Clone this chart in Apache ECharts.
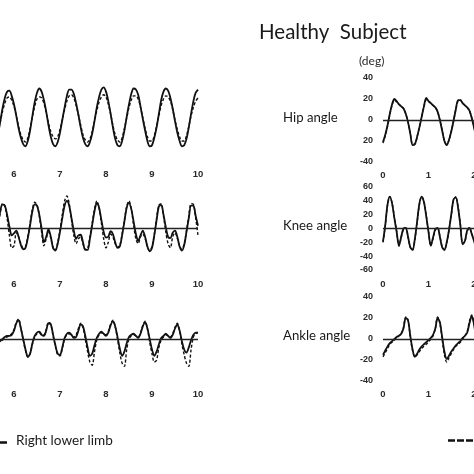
<!DOCTYPE html>
<html><head><meta charset="utf-8">
<script src="https://cdn.jsdelivr.net/npm/echarts/dist/echarts.min.js"></script>
<style>html,body{margin:0;padding:0;background:#fff}#c{width:474px;height:474px}</style>
</head><body><div id="c"></div>
<script>
// time sampling
const LEFT_T0 = 5.65, RIGHT_T0 = 0, DT = 0.05;
const xTicksLeft = ['5','6','7','8','9','10'];
const xTicksRight = ['0','1','2','3'];
const hipTicks = {'40':'40','20':'20','0':'0','-20':'20','-40':'-40'};
const kneeTicks = {'60':'60','40':'40','20':'20','0':'0','-20':'-20','-40':'-40','-60':'-60'};
const ankleTicks = {'40':'40','20':'20','0':'0','-20':'-20','-40':'-40'};

// Left (patient) panels, t = 5.65 .. 10.00 step 0.05
const leftHipSolid = [
 -14,-2,11,21,27,28,23,15,4,-8,
 -17,-23,-25,-20,-10,4,17,26,30,27,
 19,8,-5,-16,-23,-25,-21,-12,0,12,
 23,29,29,25,16,5,-7,-17,-23,-25,
 -21,-13,-1,12,22,29,31,27,18,6,
 -7,-18,-24,-25,-20,-10,3,15,25,30,
 29,24,13,1,-10,-20,-25,-24,-17,-7,
 6,19,27,30,28,21,11,-1,-12,-20,
 -25,-24,-18,-7,6,18,26,29];
const leftHipDashed = [
 -12,-2,8,16,21,22,19,13,4,-6,
 -14,-19,-21,-17,-8,3,13,20,22,21,
 16,7,-3,-11,-16,-18,-16,-9,0,10,
 18,23,24,21,14,5,-5,-14,-19,-21,
 -18,-11,-1,9,17,22,24,22,15,6,
 -5,-14,-19,-21,-17,-8,2,12,19,23,
 23,20,12,2,-8,-16,-20,-20,-15,-6,
 4,14,20,23,22,18,10,0,-9,-16,
 -20,-20,-15,-6,4,12,18,21];
const leftKneeSolid = [
 5,25,35,33,20,3,-10,-7,-3,-12,
 -24,-30,-28,-14,5,25,35,33,20,0,
 -20,-12,-1,-12,-28,-32,-22,-5,15,33,
 40,33,15,-3,-15,-10,-9,-20,-31,-31,
 -15,5,25,37,30,12,-5,-13,-12,-4,
 -8,-20,-28,-26,-10,10,30,37,28,10,
 -8,-18,-10,-3,-12,-26,-33,-28,-10,12,
 32,34,20,2,-12,-14,-6,-3,-12,-26,
 -32,-24,-5,15,33,33,18,4];
const leftKneeDashed = [
 3,22,36,33,15,-10,-28,-25,-6,-12,
 -22,-28,-26,-12,8,28,38,34,18,-5,
 -25,-15,-5,-14,-28,-31,-20,-2,20,40,
 47,36,12,-10,-22,-15,-12,-22,-30,-29,
 -12,8,28,40,30,8,-15,-28,-20,-8,
 -12,-22,-27,-24,-8,12,32,40,28,5,
 -15,-22,-12,-8,-14,-27,-32,-26,-8,15,
 34,36,18,-5,-22,-28,-12,-6,-14,-25,
 -30,-22,-3,18,36,35,15,-10];
const leftAnkleSolid = [
 -3,-2,0,2,3,3,4,8,15,18,
 10,0,-10,-17,-14,-4,3,6,7,4,
 3,8,15,14,4,-6,-14,-15,-8,1,
 5,6,4,1,2,8,14,12,3,-8,
 -16,-14,-6,1,5,7,5,3,6,13,
 17,12,2,-9,-16,-12,-4,2,4,5,
 3,1,5,12,16,10,0,-10,-16,-12,
 -5,1,3,5,3,1,4,10,14,8,
 -2,-10,-13,-8,-1,4,6,6];
const leftAnkleDashed = [
 -4,-2,-1,1,2,3,5,9,16,19,
 10,-1,-11,-17,-14,-5,2,5,6,4,
 4,9,16,14,3,-7,-15,-16,-9,0,
 4,5,3,2,4,10,15,11,0,-12,
 -22,-25,-12,-1,4,6,5,4,7,14,
 18,12,0,-13,-23,-26,-10,0,3,4,
 3,2,6,13,17,10,-3,-14,-22,-20,
 -8,-1,2,4,3,2,5,11,15,8,
 -5,-15,-23,-26,-10,2,5,6];

// Right (healthy subject) panels, t = 0 .. 2.10 step 0.05
const rightHipSolid = [
 -21,-14,-5,6,15,20,18,15,13,11,
 6,-2,-13,-24,-23,-16,-7,3,13,21,
 18,16,14,12,8,0,-10,-20,-24,-19,
 -11,-1,10,19,19,16,14,12,9,2,
 -7,-17,-24];
const rightHipDashed = [
 -22,-15,-6,5,14,19,17,15,13,11,
 6,-2,-13,-23,-23,-16,-7,3,13,19,
 18,16,14,12,8,0,-10,-20,-23,-19,
 -11,-1,10,18,19,16,14,12,9,2,
 -7,-17,-24];
const rightKneeSolid = [
 -19,5,35,46,36,15,-5,-25,-12,0,
 1,-12,-27,-31,-15,10,36,46,38,18,
 -5,-25,-13,-1,1,-12,-27,-31,-20,-2,
 20,42,45,30,5,-23,-18,-3,1,-8,
 -18,-28,-31];
const rightKneeDashed = [
 -20,4,34,46,37,16,-4,-25,-13,-1,
 1,-12,-27,-31,-16,9,35,46,39,19,
 -4,-25,-14,-2,1,-11,-26,-31,-21,-3,
 19,41,46,31,6,-22,-19,-4,1,-7,
 -17,-28,-31];
const rightAnkleSolid = [
 -15,-11,-7,-4,-2,0,2,3,5,10,
 20,18,3,-10,-17,-14,-10,-7,-5,-3,
 -1,1,4,10,20,16,2,-12,-19,-16,
 -12,-9,-6,-4,-2,1,3,6,15,22,
 14,0,-12];
const rightAnkleDashed = [
 -17,-13,-9,-5,-3,-1,1,3,5,11,
 21,18,2,-11,-17,-15,-12,-9,-7,-5,
 -3,0,3,10,21,15,0,-15,-22,-18,
 -14,-10,-7,-5,-3,0,3,7,17,23,
 14,-1,-13];

function pts(t0, vals){ return vals.map((v,i)=>[+(t0+i*DT).toFixed(2), v]); }

const FONT = 'Liberation Sans';
const panels = [
 {grid:{left:-32, top:78, width:230, height:84}, xmin:5, xmax:10, ymin:-40, ymax:40, ticks:hipTicks, showY:false, zero:false, margin:7, t0:LEFT_T0, s:leftHipSolid, d:leftHipDashed},
 {grid:{left:-32, top:187, width:230, height:83}, xmin:5, xmax:10, ymin:-60, ymax:60, ticks:kneeTicks, showY:false, zero:true, margin:9, t0:LEFT_T0, s:leftKneeSolid, d:leftKneeDashed},
 {grid:{left:-32, top:297, width:230, height:84}, xmin:5, xmax:10, ymin:-40, ymax:40, ticks:ankleTicks, showY:false, zero:true, margin:8, t0:LEFT_T0, s:leftAnkleSolid, d:leftAnkleDashed},
 {grid:{left:383, top:78, width:136.5, height:84}, xmin:0, xmax:3, ymin:-40, ymax:40, ticks:hipTicks, showY:true, zero:true, margin:8, t0:RIGHT_T0, s:rightHipSolid, d:rightHipDashed},
 {grid:{left:383, top:187, width:136.5, height:83}, xmin:0, xmax:3, ymin:-60, ymax:60, ticks:kneeTicks, showY:true, zero:true, margin:9, t0:RIGHT_T0, s:rightKneeSolid, d:rightKneeDashed},
 {grid:{left:383, top:297, width:136.5, height:84}, xmin:0, xmax:3, ymin:-40, ymax:40, ticks:ankleTicks, showY:true, zero:true, margin:8, t0:RIGHT_T0, s:rightAnkleSolid, d:rightAnkleDashed}
];

const grid=[], xAxis=[], yAxis=[], series=[];
panels.forEach((p,i)=>{
  grid.push(Object.assign({containLabel:false, outerBoundsMode:'none'}, p.grid));
  xAxis.push({type:'value', gridIndex:i, min:p.xmin, max:p.xmax, interval:1,
    axisLine:{show:false}, axisTick:{show:false}, splitLine:{show:false},
    axisLabel:{show:true, margin:p.margin, color:'#2a2a2a', fontSize:9.5, fontWeight:'bold', fontFamily:FONT}});
  yAxis.push({type:'value', gridIndex:i, min:p.ymin, max:p.ymax, interval:20,
    axisLine:{show:false}, axisTick:{show:false}, splitLine:{show:false},
    axisLabel:{show:p.showY, margin:10, color:'#2a2a2a', fontSize:9, fontWeight:'bold', fontFamily:FONT,
      formatter:(v)=> (p.ticks[String(v)] !== undefined ? p.ticks[String(v)] : '')}});
  series.push({type:'line', xAxisIndex:i, yAxisIndex:i, data:pts(p.t0,p.d), smooth:0.3, symbol:'none',
    lineStyle:{color:'#111', width:1.4, type:[3,2]}, silent:true, z:2});
  const s = {type:'line', xAxisIndex:i, yAxisIndex:i, data:pts(p.t0,p.s), smooth:0.3, symbol:'none',
    lineStyle:{color:'#111', width:1.8}, silent:true, z:3};
  if (p.zero) s.markLine = {silent:true, symbol:'none', label:{show:false}, animation:false,
    lineStyle:{color:'#222', width:1.3, type:'solid'}, data:[{yAxis:0}]};
  series.push(s);
});

const txt = (x,y,text,size,extra)=>Object.assign({type:'text', left:x, top:y,
  style:{text, fill:'#1a1a1a', font:`${size}px Lato`}}, extra||{});
const graphic = [
  txt(259, 22, 'Healthy  Subject', 20.5),
  {type:'text', left:359, top:55, style:{text:'(deg)', fill:'#2a2a2a', font:'12px Lato'}},
  txt(283, 111, 'Hip angle', 13.2),
  txt(283, 219, 'Knee angle', 13.2),
  txt(283, 329, 'Ankle angle', 13.2),
  txt(16, 434, 'Right lower limb', 13.6),
  {type:'line', shape:{x1:0, y1:442.5, x2:7, y2:442.5}, style:{stroke:'#111', lineWidth:2.5}},
  {type:'line', shape:{x1:448, y1:440.5, x2:474, y2:440.5}, style:{stroke:'#111', lineWidth:2.5, lineDash:[7,2]}}
];

const chart = echarts.init(document.getElementById('c'), null, {renderer:'canvas'});
chart.setOption({animation:false, backgroundColor:'#fff', grid, xAxis, yAxis, series, graphic});
</script></body></html>
